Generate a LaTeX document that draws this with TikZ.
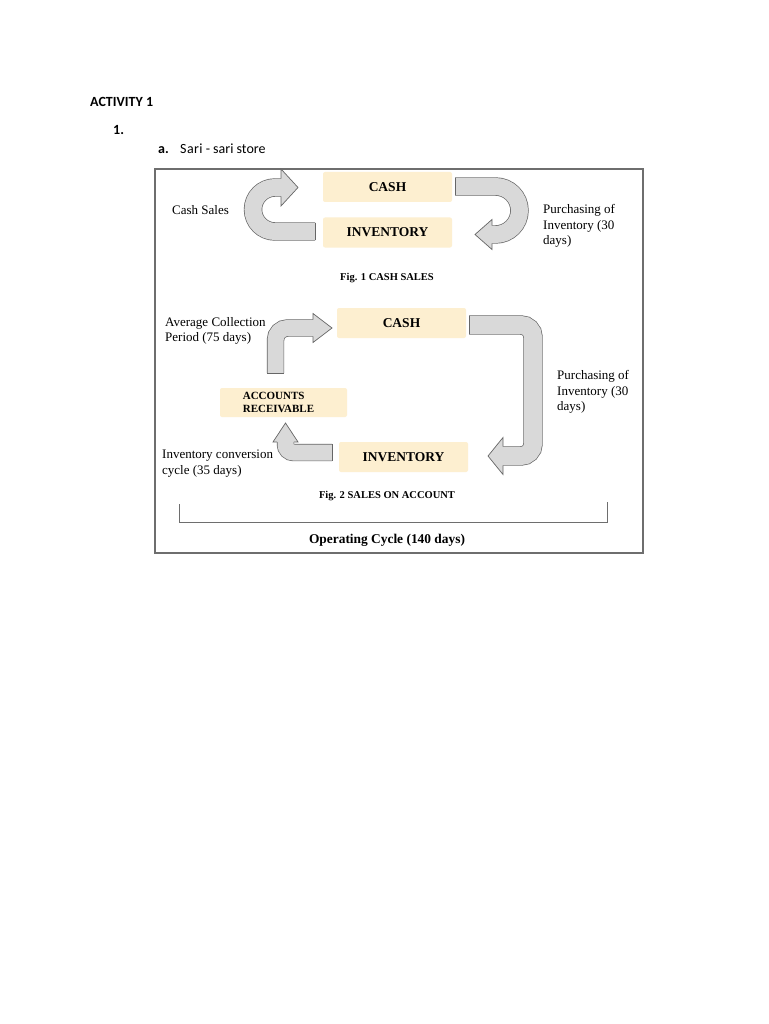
\documentclass[tikz,border=0pt]{standalone}
\usepackage{fontspec}
\setmainfont{Liberation Serif}
\newfontfamily\calib{Carlito}
\definecolor{boxfill}{HTML}{FDEFD0}
\definecolor{arrfill}{HTML}{D9D9D9}
\definecolor{arredge}{HTML}{666666}
\definecolor{framec}{HTML}{6E6E6E}
\tikzset{
  box/.style={fill=boxfill, draw=none, rounded corners=2pt, minimum width=129pt, minimum height=30pt, inner sep=0pt, font=\fontsize{13.5}{15}\selectfont\bfseries},
  band/.style={draw=arredge, double=arrfill, line width=0.7pt, double distance=#1},
  headfill/.style={fill=arrfill, draw=none},
  outl/.style={draw=arredge, line width=0.7pt, line join=miter},
  lbl/.style={font=\fontsize{13}{15.5}\selectfont, align=left, inner sep=0pt, anchor=west},
  figcap/.style={font=\fontsize{10.5}{12}\selectfont\bfseries, inner sep=0pt},
  headtxt/.style={font=\fontsize{14}{16}\selectfont\calib, inner sep=0pt, anchor=base west}
}
\begin{document}
\begin{tikzpicture}[x=1pt, y=-1pt]
\useasboundingbox (0,0) rectangle (768,1024);
\fill[white] (0,0) rectangle (768,1024);

% heading
\node[headtxt, font=\fontsize{14}{16}\selectfont\calib\bfseries] (act) at (90,107) {ACTIVITY 1};
\node[headtxt, font=\fontsize{14}{16}\selectfont\calib\bfseries] (one) at (113,135) {1.};
\node[headtxt, font=\fontsize{14}{16}\selectfont\calib\bfseries] (la) at (158,154) {a.};
\node[headtxt] (sari) at (180,154) {S\kern0.4pt a\kern0.4pt r\kern0.4pt i - sari store};

% frame
\draw[framec, line width=1.4pt] (155,169) rectangle (643,553);

% ---------- Fig 1 ----------
\node[box] (cash1) at (387.5,187) {CASH};
\node[box] (inv1) at (387.5,232.5) {INVENTORY};

% left arrow (Cash Sales)
\draw[band=17pt, rounded corners=22pt] (315,231.5) -- (253,231.5) -- (253,187.5) -- (281,187.5);
\draw[outl] (315,222.65) -- (315,240.35);
\fill[headfill] (281,169) -- (298,187.5) -- (281,206) -- cycle;
\draw[outl] (281,178.65) -- (281,169) -- (298,187.5) -- (281,206) -- (281,196.35);

% right arrow (Purchasing)
\draw[band=17pt, rounded corners=24pt] (455,186.5) -- (519.5,186.5) -- (519.5,234.5) -- (492,234.5);
\draw[outl] (455,177.65) -- (455,195.35);
\fill[headfill] (492,219.5) -- (475,234.5) -- (492,249.5) -- cycle;
\draw[outl] (492,225.65) -- (492,219.5) -- (475,234.5) -- (492,249.5) -- (492,243.35);

\node[lbl] (cs) at (172,210) {Cash Sales};
\node[lbl] (pur1) at (543,226) {Purchasing of\\Inventory (30\\days)};
\node[figcap] (fig1) at (387,278) {Fig. 1 CASH SALES};

% ---------- Fig 2 ----------
\node[box] (cash2) at (401.5,323) {CASH};
\node[box] (inv2) at (403.5,457) {INVENTORY};
\node[box, minimum width=127pt, minimum height=29pt] (ar) at (283.5,402.5) {};
\node[font=\fontsize{11}{13}\selectfont\bfseries, align=left, inner sep=0pt] (artext) at ([xshift=-5pt]ar.center) {ACCOUNTS\\RECEIVABLE};

% up-right arrow (Average Collection)
\draw[band=16pt, rounded corners=12pt] (275.5,373) -- (275.5,328) -- (313,328);
\draw[outl] (267.15,373) -- (283.85,373);
\fill[headfill] (313,313.5) -- (332,328) -- (313,342.5) -- cycle;
\draw[outl] (313,319.65) -- (313,313.5) -- (332,328) -- (313,342.5) -- (313,336.35);

% inventory conversion arrow
\draw[band=16pt, rounded corners=8pt] (332,452.5) -- (285.5,452.5) -- (285.5,442);
\draw[outl] (332,444.15) -- (332,460.85);
\fill[headfill] (273,442) -- (285.5,423) -- (298,442) -- cycle;
\draw[outl] (277.15,442) -- (273,442) -- (285.5,423) -- (298,442) -- (293.85,442);

% big purchasing arrow
\draw[band=18pt, rounded corners=12pt] (469,325) -- (533,325) -- (533,456) -- (503,456);
\draw[outl] (469,315.65) -- (469,334.35);
\fill[headfill] (503,437.5) -- (488,456) -- (503,474.5) -- cycle;
\draw[outl] (503,446.65) -- (503,437.5) -- (488,456) -- (503,474.5) -- (503,465.35);

\node[lbl] (acp) at (165,331) {Average Collection\\Period (75 days)};
\node[lbl] (icc) at (162,463.5) {Inventory conversion\\cycle (35 days)};
\node[lbl] (pur2) at (557,392) {Purchasing of\\Inventory (30\\days)};
\node[figcap] (fig2) at (387,496) {Fig. 2 SALES ON ACCOUNT};

% operating cycle bracket
\coordinate (bl) at (179,504);
\coordinate (br) at (607,502);
\draw[framec, line width=1pt] (bl) -- (179,522) -- (607,522) -- (br);
\node[font=\fontsize{13.4}{16}\selectfont\bfseries, inner sep=0pt] (oc) at (387,540) {Operating Cycle (140 days)};
\end{tikzpicture}
\end{document}
